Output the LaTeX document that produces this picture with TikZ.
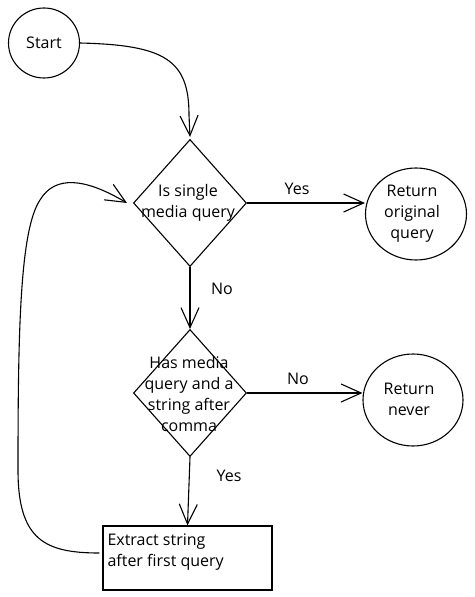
\documentclass[tikz,border=0pt]{standalone}
\usepackage{fontspec}
\setmainfont{Open Sans}
\usetikzlibrary{arrows.meta,shapes.geometric}
\begin{document}
\begin{tikzpicture}[x=1pt,y=-1pt,line width=1.1pt,
  txt/.style={font=\fontsize{16}{21}\selectfont,align=center,inner sep=0pt},
  arr/.style={-{Straight Barb[length=20pt,width=18pt]}},
  roundbox/.style={draw,ellipse,inner sep=0pt},
  decision/.style={draw,diamond,inner sep=0pt,minimum width=113pt,minimum height=127pt}]
\useasboundingbox (0,0) rectangle (474,597);
\fill[white] (0,0) rectangle (474,597);

\node[roundbox,minimum width=71pt,minimum height=70pt] (s) at (44,43) {};
\node[txt] (st) at (44,43) {Start};

\node[decision] (d1) at (190,203) {};
\node[txt] (t1) at (188,203) {Is single\\media query};

\node[roundbox,minimum width=101pt,minimum height=92pt] (r1) at (416,214) {};
\node[txt] (rt1) at (412,214) {Return\\original\\query};

\node[decision] (d2) at (190,393) {};
\node[txt] (t2) at (189,394) {Has media\\query and a\\string after\\comma};

\node[roundbox,minimum width=100pt,minimum height=92pt] (r2) at (413,400) {};
\node[txt] (rt2) at (409,399) {Return\\never};

\node[draw,rectangle,minimum width=169pt,minimum height=64pt,inner sep=0pt] (e) at (187.5,558) {};
\node[txt,align=left,anchor=west] (et) at (107,552) {Extract string\\after first query};

\node[txt] (l1) at (297,189) {Yes};
\node[txt] (l2) at (222,289) {No};
\node[txt] (l3) at (298,379) {No};
\node[txt] (l4) at (229,476) {Yes};

\draw[arr] (s.east) .. controls (165,45) and (189,60) .. (189,115) -- ([yshift=2pt]d1.north);
\draw[arr] (d1.east) -- (d1.east -| r1.west);
\draw[arr] (d1.south) -- (d2.north);
\draw[arr] (d2.east) -- (d2.east -| r2.west);
\draw[arr] (d2.south) -- (e.north);
\draw[arr] ([xshift=-3pt,yshift=5pt]e.west) .. controls (45,553) and (18,540) .. (18,470)
  .. controls (18,330) and (20,230) .. (40,200)
  .. controls (55,175) and (85,178) .. ([xshift=-6pt]d1.west);
\end{tikzpicture}
\end{document}
